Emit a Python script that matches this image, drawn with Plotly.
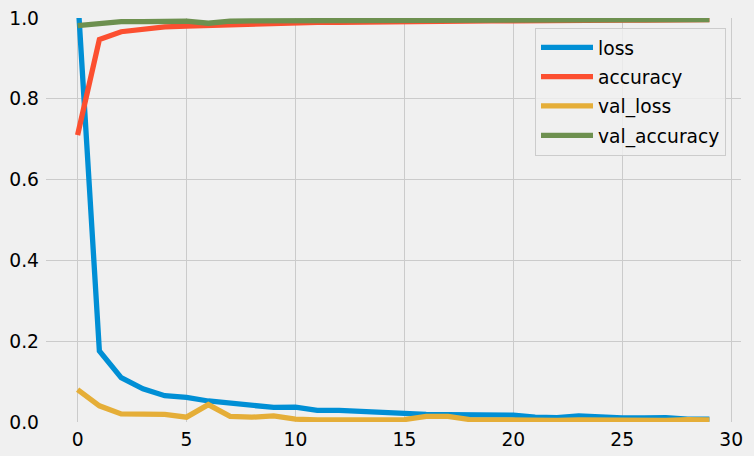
import plotly.graph_objects as go

epochs = list(range(30))
loss = [1.06, 0.176, 0.110, 0.082, 0.065, 0.061, 0.052, 0.047, 0.040, 0.036,
        0.037, 0.029, 0.029, 0.026, 0.024, 0.020, 0.019, 0.018, 0.018, 0.015,
        0.017, 0.012, 0.011, 0.015, 0.012, 0.010, 0.010, 0.011, 0.007, 0.007]
accuracy = [0.710, 0.947, 0.966, 0.973, 0.978, 0.980, 0.982, 0.984, 0.986, 0.987,
            0.987, 0.989, 0.989, 0.990, 0.991, 0.992, 0.992, 0.992, 0.993, 0.993,
            0.993, 0.994, 0.995, 0.994, 0.995, 0.995, 0.995, 0.995, 0.996, 0.996]
val_loss = [0.080, 0.040, 0.020, 0.021, 0.019, 0.012, 0.043, 0.014, 0.012, 0.015,
            0.007, 0.005, 0.005, 0.007, 0.005, 0.006, 0.014, 0.014, 0.006, 0.005,
            0.005, 0.004, 0.004, 0.005, 0.004, 0.004, 0.004, 0.004, 0.006, 0.005]
val_accuracy = [0.981, 0.987, 0.991, 0.991, 0.992, 0.992, 0.987, 0.992, 0.993, 0.993,
                0.994, 0.994, 0.994, 0.994, 0.995, 0.995, 0.995, 0.995, 0.995, 0.995,
                0.995, 0.995, 0.996, 0.995, 0.996, 0.996, 0.996, 0.996, 0.996, 0.996]
x_ticks = [0, 5, 10, 15, 20, 25, 30]
y_ticks = [0.0, 0.2, 0.4, 0.6, 0.8, 1.0]

series = [("loss", loss, "#008fd5"), ("accuracy", accuracy, "#fc4f30"),
          ("val_loss", val_loss, "#e5ae38"), ("val_accuracy", val_accuracy, "#6d904f")]

fig = go.Figure()
for name, vals, color in series:
    fig.add_trace(go.Scatter(x=epochs, y=vals, name=name, mode="lines",
                             legendgroup=name,
                             line=dict(color=color, width=5.3)))

font = dict(family="DejaVu Sans", size=18.7, color="#000000")
fig.update_layout(
    width=754, height=456,
    margin=dict(l=46, r=13, t=18, b=34, autoexpand=False),
    paper_bgcolor="#f0f0f0", plot_bgcolor="#f0f0f0",
    font=font,
    showlegend=True,
    legend=dict(x=0.7036, y=0.976, xanchor="left", yanchor="top",
                bgcolor="rgba(240,240,240,0.8)", bordercolor="#cccccc",
                borderwidth=1, font=font, traceorder="grouped",
                tracegroupgap=2, itemwidth=52),
    xaxis=dict(range=[-1.45, 30.45], tickvals=x_ticks, showgrid=True,
               gridcolor="#cbcbcb", gridwidth=1.3, zeroline=False,
               showline=False, ticks="", ticklabelstandoff=4, automargin=False),
    yaxis=dict(range=[0, 1], tickvals=y_ticks, tickformat=".1f", showgrid=True,
               gridcolor="#cbcbcb", gridwidth=1.3, zeroline=False,
               showline=False, ticks="", ticklabelstandoff=6, automargin=False),
)
fig.write_html("out.html", config={"displayModeBar": False},
               post_script="document.body.style.margin='0';document.body.style.background='#f0f0f0';")
